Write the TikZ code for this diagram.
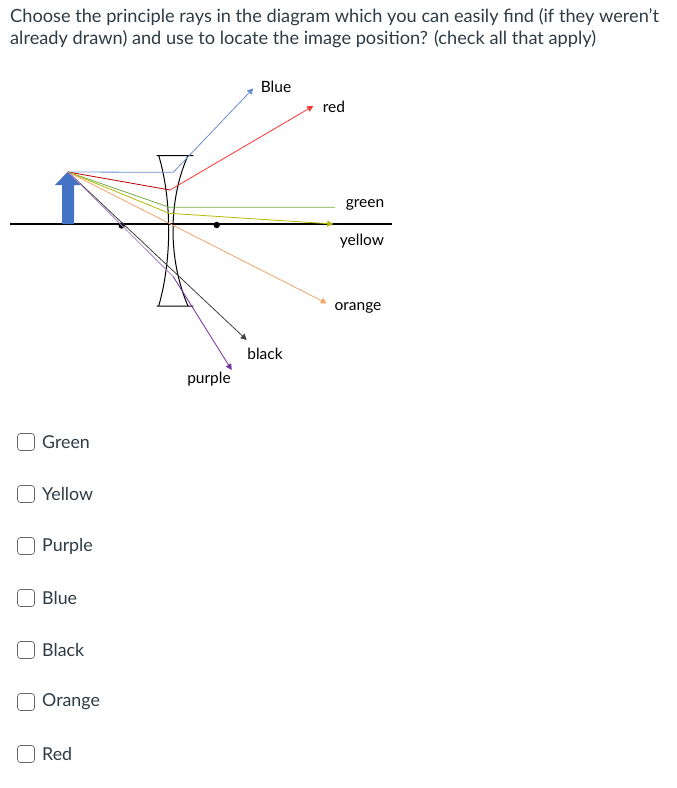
\documentclass[tikz,border=0pt]{standalone}
\usepackage{fontspec}
\setmainfont{Lato}
\usetikzlibrary{arrows.meta}
\definecolor{cblue}{HTML}{4472C4}
\definecolor{cred}{HTML}{C00000}
\definecolor{cgreen}{HTML}{70AD47}
\definecolor{cyellow}{HTML}{B5B800}
\definecolor{corange}{HTML}{F4A26B}
\definecolor{cpurple}{HTML}{7030A0}
\definecolor{txt}{HTML}{2D3B45}
\begin{document}
\begin{tikzpicture}[x=1pt,y=-1pt,
  ray/.style={line width=0.8pt},
  tip/.style={-{Triangle[length=6pt,width=6pt]}},
  lbl/.style={font=\fontsize{15.5}{18}\selectfont,text=black,inner sep=0},
  opt/.style={font=\fontsize{17.8}{20}\selectfont,text=txt,anchor=west,inner sep=0},
  cbox/.style={draw=gray!80!black,rounded corners=3pt,minimum width=17pt,minimum height=17pt,line width=0.7pt,inner sep=0}]
\useasboundingbox (0,0) rectangle (677,788);
\node[anchor=north west,align=left,text=txt,font=\fontsize{18.2}{22}\selectfont,inner sep=0] (title) at (10,8)
 {Choose the principle rays in the diagram which you can easily find (if they weren't\\already drawn) and use to locate the image position? (check all that apply)};
% axis
\coordinate (ax1) at (10,224); \coordinate (ax2) at (392,224);
\draw[line width=1.2pt] (ax1) -- (ax2);
\fill (121.7,225.5) circle (3.2pt); \fill (216.7,225) circle (3.2pt);
% object arrow
\fill[cblue] (62,224) -- (62,185) -- (55,185) -- (68,171.5) -- (81,185) -- (74,185) -- (74,224) -- cycle;
\coordinate (T) at (68,172);
% lens
\draw[line width=1pt] (156.7,155.5) -- (193.3,155.5) (156.7,306) -- (193.3,306)
  (158.7,155.5) .. controls (172,200) and (172,260) .. (158.7,306)
  (188,155.5) .. controls (168,200) and (168,260) .. (188,306);
% rays
\coordinate (b1) at (173.3,172.3); \coordinate (b2) at (253.3,88.3);
\draw[ray,cblue!80] (T) -- (b1); \draw[ray,cblue!80,tip] (b1) -- (b2);
\coordinate (r1) at (170,190); \coordinate (r2) at (313.3,106);
\draw[ray,cred] (T) -- (r1); \draw[ray,red!80!white,tip] (r1) -- (r2);
\coordinate (g1) at (169.3,207.3); \coordinate (g2) at (335,207.3);
\draw[ray,cgreen] (T) -- (g1) -- (g2);
\coordinate (y1) at (169.3,213.3); \coordinate (y2) at (333.3,224);
\draw[ray,cyellow] (T) -- (y1); \draw[ray,cyellow,tip] (y1) -- (y2);
\coordinate (o2) at (326.7,303.3);
\draw[ray,corange,tip] (T) -- (o2);
\coordinate (k2) at (246.7,340);
\draw[ray,black!75,tip] (T) -- (k2);
\coordinate (p1) at (173.3,276.7); \coordinate (p2) at (231.7,370);
\draw[ray,cpurple!60] (T) -- (p1); \draw[ray,cpurple,tip] (p1) -- (p2);
% labels
\node[lbl] (lb) at (276,87) {Blue};
\node[lbl] (lr) at (334,107) {red};
\node[lbl] (lg) at (365,205) {green};
\node[lbl] (ly) at (362,241) {yellow};
\node[lbl] (lo) at (358,308) {orange};
\node[lbl] (lk) at (265,354) {black};
\node[lbl] (lp) at (209,379) {purple};
% options
\foreach \t [count=\i from 0] in {Green,Yellow,Purple,Blue,Black,Orange,Red}{
  \node[cbox] (c\i) at (26,442+52*\i) {};
  \node[opt] (o\i) at (42,442+52*\i) {\t};
}
\end{tikzpicture}
\end{document}
